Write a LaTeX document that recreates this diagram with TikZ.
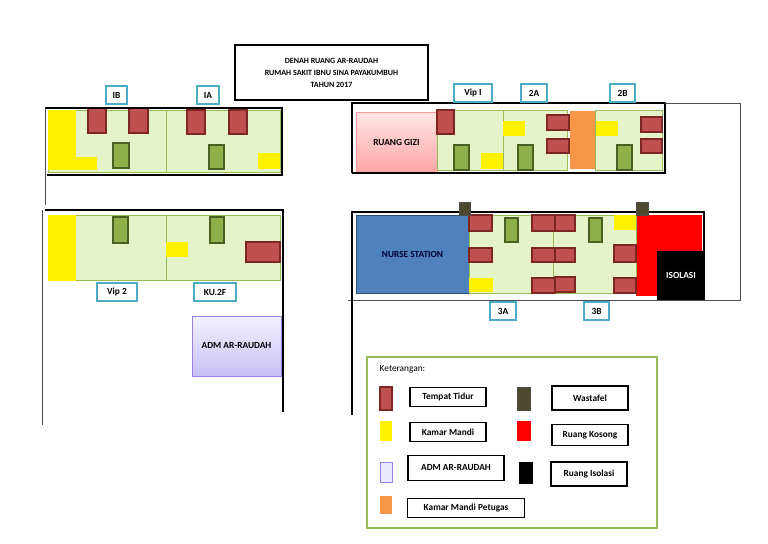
\documentclass[tikz,border=0pt]{standalone}
\usepackage{fontspec}
\setmainfont{Carlito}
\definecolor{doorc}{HTML}{8DB04B}
\definecolor{doorb}{HTML}{4A5F22}
\definecolor{roomc}{HTML}{E4F3C8}
\definecolor{bedc}{HTML}{C0504D}
\definecolor{bedb}{HTML}{7F2624}
\definecolor{nsc}{HTML}{4F81BD}
\definecolor{legc}{HTML}{9BBB59}
\definecolor{orc}{HTML}{F79646}
\definecolor{labc}{HTML}{4BACC6}
\begin{document}
\begin{tikzpicture}[x=0.75pt,y=-0.75pt,
 bed/.style={draw=bedb,fill=bedc,line width=0.8pt},
 door/.style={draw=doorb,fill=doorc,line width=0.8pt},
 sink/.style={draw=black!70,fill=olive!40!black},
 wc/.style={fill=yellow},
 room/.style={draw=legc,fill=roomc,line width=0.5pt},
 lab/.style={draw=labc,line width=1.2pt,fill=white,font=\bfseries\scriptsize,inner sep=0pt},
 wall/.style={line width=1.3pt},
 thin/.style={line width=0.5pt,black!70},
 leg/.style={draw,line width=1pt,font=\bfseries\scriptsize,inner sep=0pt}]
\useasboundingbox (0,0) rectangle (768,543);
\fill[white] (0,0) rectangle (768,543);
% title
\node[draw,line width=1.3pt,fill=white,minimum width=193*0.75pt,minimum height=55*0.75pt,align=center,font=\bfseries\fontsize{6}{7}\selectfont] (title) at (331.5,72.5) {DENAH RUANG AR-RAUDAH\\[2pt]RUMAH SAKIT IBNU SINA PAYAKUMBUH\\[2pt]TAHUN 2017};
% top-left block
\draw[room] (48,110) rectangle (166,172); \draw[room] (166,110) rectangle (280,172);
\fill[wc] (48,110) rectangle (76,170); \fill[wc] (76,157) rectangle (97,170);
\fill[wc] (258,153) rectangle (280,169);
\draw[bed] (88,108) rectangle (106,133); \draw[bed] (129,108) rectangle (148,133);
\draw[bed] (187,110) rectangle (205,134); \draw[bed] (229,110) rectangle (247,134);
\draw[door] (113,143) rectangle (129,168); \draw[door] (209,145) rectangle (224,169);
\draw[wall] (45,108) -- (282,108) -- (282,175) -- (47,175);
\draw[thin] (45,108) -- (45,205);
\node[lab,minimum width=16pt,minimum height=13.5pt] (ib) at (116.5,95) {IB};
\node[lab,minimum width=16.5pt,minimum height=13.5pt] (ia) at (208,95) {IA};
% middle-left block
\draw[room] (48,215) rectangle (166,280); \draw[room] (166,215) rectangle (280,280);
\fill[wc] (48,215) rectangle (76,281); \fill[wc] (166,242) rectangle (188,257);
\draw[door] (113,217) rectangle (128,243); \draw[door] (210,217) rectangle (224,243);
\draw[bed] (246,242) rectangle (280,262);
\draw[wall] (45,210) -- (283,210) -- (283,412);
\draw[thin] (42,210) -- (42,425);
\node[lab,minimum width=30pt,minimum height=13.5pt] (vip2) at (117,292) {Vip 2};
\node[lab,minimum width=31.5pt,minimum height=13.5pt] (ku) at (215,292) {KU.2F};
\node[draw=violet!45!blue!50,top color=violet!5!blue!5,bottom color=violet!30!blue!25,minimum width=89*0.75pt,minimum height=60*0.75pt,font=\bfseries\scriptsize] (adm) at (236.5,346) {ADM AR-RAUDAH};
% top-right block
\node[draw=red!40,top color=red!10,bottom color=red!35,minimum width=81*0.75pt,minimum height=60*0.75pt,font=\bfseries\scriptsize] (gizi) at (396.5,142) {RUANG GIZI};
\draw[room] (437,110) rectangle (503,170); \draw[room] (503,110) rectangle (567,170); \draw[room] (595,110) rectangle (662,170);
\fill[orc] (570,111) rectangle (595,169);
\draw[bed] (437,110) rectangle (454,134);
\fill[wc] (503,121) rectangle (525,136); \fill[wc] (481,153) rectangle (503,169); \fill[wc] (596,121) rectangle (618,136);
\draw[door] (454,145) rectangle (469,170); \draw[door] (518,145) rectangle (533,170); \draw[door] (617,145) rectangle (632,170);
\draw[bed] (547,115) rectangle (569,130); \draw[bed] (547,139) rectangle (569,153);
\draw[bed] (641,117) rectangle (662,132); \draw[bed] (641,139) rectangle (662,153);
\draw[wall] (352,173) -- (352,103) -- (665,103) -- (665,173) -- (352,173);
\draw[thin] (665,103) -- (740,103) -- (740,300) -- (348,300);
\node[lab,minimum width=28.5pt,minimum height=13.5pt] (vip1) at (473,93) {Vip I};
\node[lab,minimum width=19.5pt,minimum height=13.5pt] (a2) at (534,93) {2A};
\node[lab,minimum width=19pt,minimum height=13.5pt] (b2) at (622.5,93) {2B};
% bottom-right block
\fill[red] (636,215) rectangle (702,296);
\node[draw=nsc!60!black,fill=nsc,minimum width=113*0.75pt,minimum height=78*0.75pt,font=\bfseries\scriptsize,text=black!80!blue] (ns) at (412.5,254) {NURSE STATION};
\draw[room] (469,215) rectangle (553,293); \draw[room] (553,215) rectangle (636,293);
\fill[wc] (469,278) rectangle (493,292); \fill[wc] (614,215) rectangle (636,230);
\draw[bed] (469,215) rectangle (492,231); \draw[bed] (469,248) rectangle (492,262);
\draw[bed] (532,215) rectangle (555,231); \draw[bed] (555,215) rectangle (575,231);
\draw[bed] (532,248) rectangle (555,262); \draw[bed] (555,248) rectangle (575,262);
\draw[bed] (532,278) rectangle (555,293); \draw[bed] (555,277) rectangle (575,292);
\draw[bed] (614,245) rectangle (636,262); \draw[bed] (614,278) rectangle (636,293);
\draw[door] (505,218) rectangle (518,242); \draw[door] (589,218) rectangle (602,242);
\draw[wall] (352,415) -- (352,212) -- (704,212) -- (704,300);
\draw[sink] (459,202) rectangle (470,215); \draw[sink] (636,202) rectangle (648,215);
\node[fill=black,text=white,minimum width=48*0.75pt,minimum height=49*0.75pt,font=\bfseries\scriptsize] (iso) at (681,275.5) {ISOLASI};
\node[lab,minimum width=19.5pt,minimum height=13.5pt] (a3) at (503,311) {3A};
\node[lab,minimum width=19pt,minimum height=13.5pt] (b3) at (596.5,311) {3B};
% legend
\draw[legc,line width=1.2pt] (367,357) rectangle (657,528);
\node[font=\scriptsize,anchor=west] (ket) at (375,369) {Keterangan:};
\draw[bed] (380,387) rectangle (392,410);
\node[leg,minimum width=57pt,minimum height=14pt] (l1) at (448,397) {Tempat Tidur};
\fill[wc] (380,421) rectangle (392,441);
\node[leg,minimum width=57pt,minimum height=14pt] (l2) at (448,432) {Kamar Mandi};
\draw[violet!45!blue!50,fill=violet!10!blue!8] (380,462) rectangle (392,482);
\node[leg,minimum width=72pt,minimum height=19pt] (l3) at (456,468) {ADM AR-RAUDAH};
\fill[orc] (380,496) rectangle (392,514);
\node[leg,minimum width=88pt,minimum height=14pt] (l4) at (466,508) {Kamar Mandi Petugas};
\draw[sink] (517,387) rectangle (530,410);
\node[leg,minimum width=57pt,minimum height=18pt] (l5) at (590,398) {Wastafel};
\fill[red] (517,421) rectangle (531,441);
\node[leg,minimum width=57pt,minimum height=16pt] (l6) at (590,435) {Ruang Kosong};
\fill[black] (519,462) rectangle (533,484);
\node[leg,minimum width=57pt,minimum height=18pt] (l7) at (589,474) {Ruang Isolasi};
\end{tikzpicture}
\end{document}
